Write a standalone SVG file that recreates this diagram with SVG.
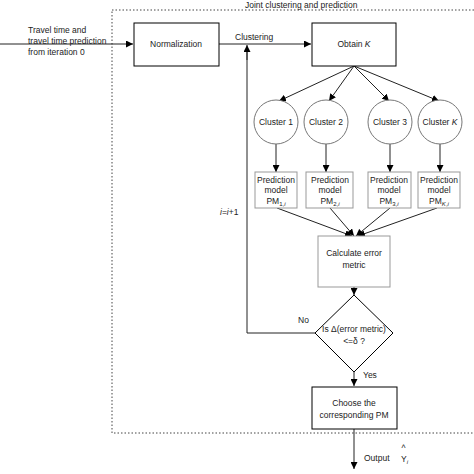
<svg xmlns="http://www.w3.org/2000/svg" width="474" height="474" viewBox="0 0 474 474">
<defs>
<marker id="ah" viewBox="0 0 10 10" refX="10" refY="5" markerWidth="7" markerHeight="7" markerUnits="userSpaceOnUse" orient="auto"><path d="M0,0 L10,5 L0,10 z" fill="#000"/></marker>
<style>
text{font-family:"Liberation Sans",Arial,sans-serif;font-size:8.5px;fill:#222}
.m{text-anchor:middle}
.box{fill:#fff;stroke:#000;stroke-width:1}
.gbox{fill:#fff;stroke:#999;stroke-width:1}
.c{fill:#fff;stroke:#777;stroke-width:1}
.ln{fill:none;stroke:#222;stroke-width:1}
.arr{fill:none;stroke:#222;stroke-width:1;marker-end:url(#ah)}
.dot{fill:none;stroke:#444;stroke-width:1;stroke-dasharray:1.5,2}
</style>
</defs>
<rect width="474" height="474" fill="#fff"/>
<g id="boundary">
<rect class="dot" x="112" y="10" width="380" height="423"/>
<text x="245" y="8">Joint clustering and prediction</text>
</g>
<g id="connectors">
<path class="arr" d="M0,44 H133"/>
<path class="arr" d="M219,44 H311"/>
<path class="arr" d="M354,66 L279,101"/>
<path class="arr" d="M354,66 L329,101"/>
<path class="arr" d="M354,66 L389,101"/>
<path class="arr" d="M354,66 L439,101"/>
<path class="arr" d="M276,144 V172"/>
<path class="arr" d="M326,144 V172"/>
<path class="arr" d="M390,144 V172"/>
<path class="arr" d="M440,144 V172"/>
<path class="arr" d="M277,208 L352,236"/>
<path class="arr" d="M330,208 L354,236"/>
<path class="arr" d="M390,208 L356,236"/>
<path class="arr" d="M437,208 L358,236"/>
<path class="arr" d="M354,287 V295"/>
<path class="ln" d="M315,333 H247 V52"/>
<path class="arr" d="M247,60 V45"/>
<path class="arr" d="M354,372 V386"/>
<path class="arr" d="M354,429 V469"/>
<text><tspan x="28" y="33">Travel time and</tspan><tspan x="28" y="44">travel time prediction</tspan><tspan x="28" y="55">from iteration 0</tspan></text>
<text x="235" y="40">Clustering</text>
<text x="220" y="215"><tspan font-style="italic">i</tspan>=<tspan font-style="italic">i</tspan>+1</text>
<text x="298" y="323">No</text>
<text x="363" y="378">Yes</text>
<text x="364" y="461">Output</text>
<text x="401" y="462">Y<tspan font-size="6" font-style="italic" dy="2">i</tspan></text>
<text x="401.5" y="451" font-size="6">^</text>
</g>
<g id="normalization">
<rect class="box" x="134" y="23" width="85" height="43"/>
<text class="m" x="176" y="47">Normalization</text>
</g>
<g id="obtainK">
<rect class="box" x="312" y="23" width="84" height="43"/>
<text class="m" x="354" y="47">Obtain <tspan font-style="italic">K</tspan></text>
</g>
<g id="cluster1"><circle class="c" cx="276" cy="122" r="22"/><text class="m" x="276" y="125">Cluster 1</text></g>
<g id="cluster2"><circle class="c" cx="326" cy="122" r="22"/><text class="m" x="326" y="125">Cluster 2</text></g>
<g id="cluster3"><circle class="c" cx="390" cy="122" r="22"/><text class="m" x="390" y="125">Cluster 3</text></g>
<g id="clusterK"><circle class="c" cx="440" cy="122" r="22"/><text class="m" x="440" y="125">Cluster <tspan font-style="italic">K</tspan></text></g>
<g id="pm1"><rect class="gbox" x="255" y="172" width="42" height="36"/><text class="m" x="276" y="183">Prediction</text><text class="m" x="276" y="193">model</text><text class="m" x="276" y="204">PM<tspan font-size="6" dy="2">1,<tspan font-style="italic">i</tspan></tspan></text></g>
<g id="pm2"><rect class="gbox" x="306" y="172" width="47" height="36"/><text class="m" x="330" y="183">Prediction</text><text class="m" x="330" y="193">model</text><text class="m" x="330" y="204">PM<tspan font-size="6" dy="2">2,<tspan font-style="italic">i</tspan></tspan></text></g>
<g id="pm3"><rect class="gbox" x="368" y="172" width="43" height="36"/><text class="m" x="389" y="183">Prediction</text><text class="m" x="389" y="193">model</text><text class="m" x="389" y="204">PM<tspan font-size="6" dy="2">3,<tspan font-style="italic">i</tspan></tspan></text></g>
<g id="pmK"><rect class="gbox" x="418" y="172" width="42" height="36"/><text class="m" x="439" y="183">Prediction</text><text class="m" x="439" y="193">model</text><text class="m" x="439" y="204">PM<tspan font-size="6" dy="2"><tspan font-style="italic">K</tspan>,<tspan font-style="italic">i</tspan></tspan></text></g>
<g id="calc"><rect class="gbox" x="318" y="236" width="72" height="51"/><text class="m" x="354" y="256">Calculate error</text><text class="m" x="354" y="268">metric</text></g>
<g id="decision"><path class="box" d="M354,295 L393,333 L354,372 L315,333 z"/><text class="m" x="354" y="332">Is Δ(error metric)</text><text class="m" x="354" y="344">&lt;=δ ?</text></g>
<g id="choose"><rect class="box" x="312" y="387" width="85" height="42"/><text class="m" x="354" y="406">Choose the</text><text class="m" x="354" y="418">corresponding PM</text></g>
</svg>
